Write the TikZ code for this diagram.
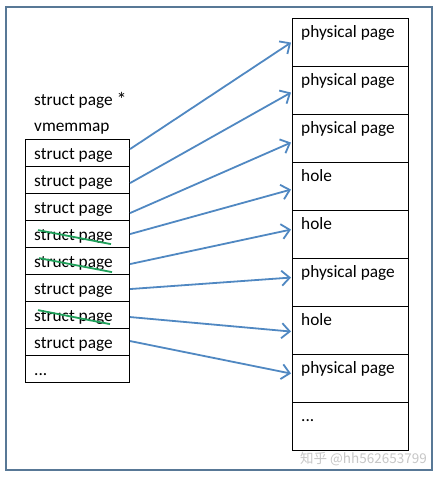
\documentclass[tikz,border=0pt]{standalone}
\usepackage{fontspec}
\setmainfont{Carlito}
\newfontfamily\cjkfont{Noto Sans CJK SC}
\usetikzlibrary{calc,arrows.meta}
\definecolor{framec}{HTML}{587896}
\definecolor{arrc}{HTML}{5088C2}
\definecolor{strikec}{HTML}{1FA05A}
\newcommand{\mydots}{...}
\begin{document}
\begin{tikzpicture}[x=1pt,y=-1pt,
  lcell/.style={draw=black,line width=1.1pt,minimum width=104pt,minimum height=27pt,inner sep=0pt,anchor=north west},
  rcell/.style={draw=black,line width=1.1pt,minimum width=116pt,minimum height=48pt,inner sep=0pt,anchor=north west},
  txt/.style={anchor=base west,inner sep=0pt,font=\fontsize{17.3}{19}\selectfont},
  conn/.style={draw=arrc,line width=1.8pt,-{Straight Barb[length=8pt,width=15pt,line width=1.8pt]}},
  strike/.style={draw=strikec,line width=1.8pt}]
\useasboundingbox (0,0) rectangle (438,477);
\fill[white] (0,0) rectangle (438,477);
\node[draw=framec,line width=2.5pt,minimum width=426pt,minimum height=463pt,inner sep=0pt,anchor=north west] (frame) at (4.5,5.5) {};
% labels above left column
\node[txt] (lab1) at (34,105) {struct page \raisebox{-1pt}{\fontsize{20}{20}\selectfont *}};
\node[txt] (lab2) at (34,131) {vmemmap};
% left column
\foreach \i/\t in {1/struct page,2/struct page,3/struct page,4/struct page,5/struct page,6/struct page,7/struct page,8/struct page,9/\mydots}{
  \node[lcell] (l\i) at (25,{139+27*(\i-1)}) {};
  \node[txt] (lt\i) at ($(l\i.south west)+(9,-8)$) {\t};
}
% right column
\foreach \i/\t in {1/physical page,2/physical page,3/physical page,4/hole,5/hole,6/physical page,7/hole,8/physical page,9/\mydots}{
  \node[rcell] (r\i) at (292,{18+48*(\i-1)}) {};
  \node[txt] (rt\i) at ($(r\i.north west)+(9,19)$) {\t};
}
% strike-through lines
\draw[strike] ($(lt4.west)+(4,-6)$) -- ($(lt4.west)+(77,8)$);
\draw[strike] ($(lt5.west)+(5,-5)$) -- ($(lt5.west)+(78,9)$);
\draw[strike] ($(lt7.west)+(4,-7)$) -- ($(lt7.west)+(76,7)$);
% connectors
\draw[conn] ($(l1.east)+(0,-4)$) -- ($(r1.west)+(-1,0)$);
\draw[conn] ($(l2.east)+(0,3)$) -- ($(r2.west)+(-1,2)$);
\draw[conn] ($(l3.east)+(0,6)$) -- ($(r3.west)+(-1,4)$);
\draw[conn] ($(l4.east)+(0,0)$) -- ($(r4.west)+(-1,3)$);
\draw[conn] ($(l5.east)+(0,3)$) -- ($(r5.west)+(-1,-5)$);
\draw[conn] ($(l6.east)+(0,1)$) -- ($(r6.west)+(-1,-5)$);
\draw[conn] ($(l7.east)+(0,2)$) -- ($(r7.west)+(-1,1)$);
\draw[conn] ($(l8.east)+(0,-1)$) -- ($(r8.west)+(-1,-5)$);
% watermark
\node[anchor=base east,inner sep=0pt,text=black!22,font=\cjkfont\fontsize{13.5}{15}\selectfont] (wm) at (427,463) {知乎 @hh562653799};
\end{tikzpicture}
\end{document}
